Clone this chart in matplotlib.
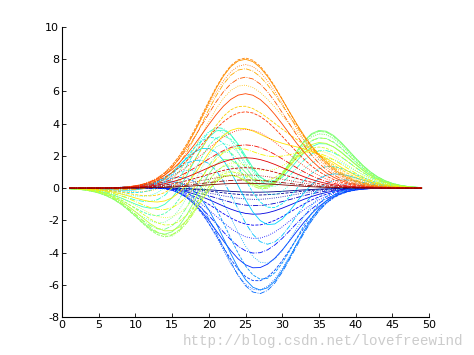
import matplotlib
matplotlib.use("Agg")
import matplotlib.pyplot as plt
import numpy as np

plt.rcParams["axes.unicode_minus"] = False

# ---- data: MATLAB peaks(49), one line per row ----
n_pts = 49
grid = np.linspace(-3, 3, n_pts)
X, Y = np.meshgrid(grid, grid)
Z = (3 * (1 - X) ** 2 * np.exp(-X ** 2 - (Y + 1) ** 2)
     - 10 * (X / 5 - X ** 3 - Y ** 5) * np.exp(-X ** 2 - Y ** 2)
     - 1 / 3 * np.exp(-(X + 1) ** 2 - Y ** 2))
xs = np.arange(1, n_pts + 1)

line_styles = ["-", "--", ":", "-."]
x_ticks = list(range(0, 51, 5))
y_ticks = list(range(-8, 11, 2))

# ---- canvas ----
fig = plt.figure(figsize=(4.74, 3.55), dpi=100)
ax = fig.add_axes([0.131, 0.107, 0.774, 0.817])

cmap = plt.get_cmap("jet")
for i in range(n_pts):
    ax.plot(xs, Z[i, :], color=cmap(i / (n_pts - 1)),
            linestyle=line_styles[i % 4], linewidth=0.6)

ax.set_xlim(0, 50)
ax.set_ylim(-8, 10)
ax.set_xticks(x_ticks)
ax.set_yticks(y_ticks)
ax.spines["top"].set_visible(False)
ax.spines["right"].set_visible(False)
ax.tick_params(direction="in", length=3, labelsize=8, width=0.6, pad=2)
for s in ("left", "bottom"):
    ax.spines[s].set_linewidth(0.8)

# watermark
fig.text(0.978, 0.04, "http://blog.csdn.net/lovefreewind", ha="right", va="center",
         fontsize=10.3, family="Liberation Mono", color="#cccccc")

fig.savefig("out.png", dpi=100, facecolor="white")
plt.close()
